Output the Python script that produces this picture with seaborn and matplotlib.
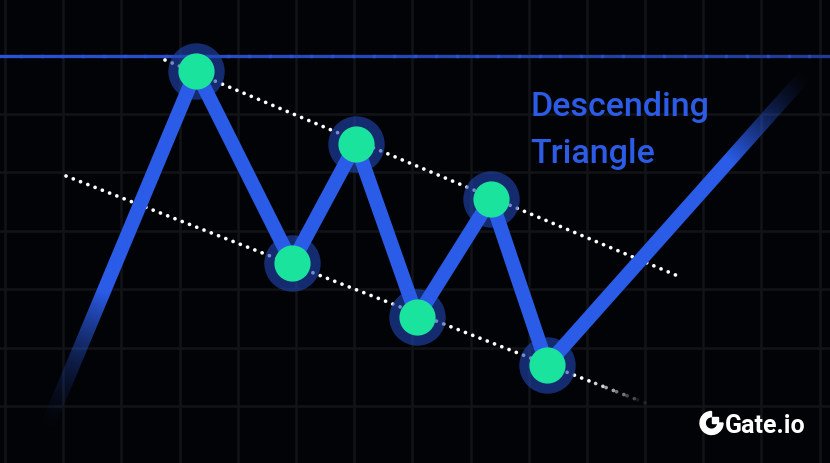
import numpy as np
import pandas as pd
import matplotlib
matplotlib.use("Agg")
import matplotlib.pyplot as plt
from matplotlib.collections import LineCollection
from matplotlib.patches import Wedge, Rectangle, Polygon
import seaborn as sns

# ---- data (pixel-space coordinates) ----
line_x = [42, 196, 292, 356, 417, 491, 547, 808]
line_y = [440, 72, 264, 145, 318, 200, 366, 73]
pivot_x = [196, 292, 356, 417, 491, 547]
pivot_y = [72, 264, 145, 318, 200, 366]
upper_trend_x = [165, 678]
upper_trend_y = [61, 277]
lower_trend_x = [66, 648]
lower_trend_y = [177, 405]
resistance_y = 57
grid_x = [5, 63, 121, 180, 238, 296, 354, 412, 471, 529, 587, 645, 703, 761, 820]
grid_y = [57, 115, 173, 232, 290, 349, 407]
title_lines = ["Descending", "Triangle"]
brand = "Gate.io"

W, H = 830, 464
BG = "#020306"
BLUE = "#2b5ce8"
GREEN = "#19e39c"
LW_PT = 10.3

sns.set_theme(style="dark")
plt.rcParams["font.family"] = ["Roboto", "DejaVu Sans"]

fig = plt.figure(figsize=(W / 100, H / 100), dpi=100, facecolor=BG)
ax = fig.add_axes([0, 0, 1, 1])
ax.set_facecolor(BG)
ax.set_xticks(grid_x)
ax.set_yticks(grid_y)
ax.tick_params(length=0, labelbottom=False, labelleft=False)
ax.grid(True, color="#111318", lw=1.8)
for s in ax.spines.values():
    s.set_visible(False)

# resistance line with slight fade to the right
n = 40
xs = np.linspace(0, W, n + 1)
segs = [[(xs[i], resistance_y), (xs[i + 1], resistance_y)] for i in range(n)]
cols = [matplotlib.colors.to_rgba("#2a52d4", 1 - 0.35 * i / n) for i in range(n)]
ax.add_collection(LineCollection(segs, colors=cols, linewidths=2.4,
                                 capstyle="projecting", zorder=2))

# dotted trendlines
dot_style = dict(color="white", lw=2.7, linestyle=(0, (0.01, 2.07)),
                 dash_capstyle="round", zorder=2)
ax.plot(upper_trend_x, upper_trend_y, **dot_style)
lx0, ly0 = lower_trend_x[0], lower_trend_y[0]
lx1, ly1 = lower_trend_x[1], lower_trend_y[1]
fade_start = 0.91
pieces = 5
ts = [0, fade_start] + list(np.linspace(fade_start, 1, pieces + 1)[1:])
for i in range(len(ts) - 1):
    a = 1.0 if i == 0 else 1 - i / (pieces + 0.5)
    ax.plot([lx0 + (lx1 - lx0) * ts[i], lx0 + (lx1 - lx0) * ts[i + 1]],
            [ly0 + (ly1 - ly0) * ts[i], ly0 + (ly1 - ly0) * ts[i + 1]],
            **{**dot_style, "alpha": a})

pivots = pd.DataFrame({"x": pivot_x, "y": pivot_y})
# halo
sns.scatterplot(data=pivots, x="x", y="y", s=1650, color="#2045b0", alpha=0.62,
                linewidth=0, ax=ax, zorder=3, legend=False)

# main zig-zag
sns.lineplot(data=pivots, x="x", y="y", sort=False, color=BLUE, lw=LW_PT,
             ax=ax, zorder=4, legend=False, solid_joinstyle="round",
             solid_capstyle="round")


def fade_leg(p_solid, p_end, fade_frac, power):
    p0 = np.array(p_solid, float)
    p1 = np.array(p_end, float)
    d = p1 - p0
    L = np.hypot(*d)
    u = d / L
    nrm = np.array([-u[1], u[0]])
    hw = LW_PT / 0.72 / 2
    corners = [p0 + nrm * hw, p1 + nrm * hw, p1 - nrm * hw, p0 - nrm * hw]
    poly = Polygon(corners, closed=True, facecolor="none", edgecolor="none",
                   transform=ax.transData)
    ax.add_patch(poly)
    xmin = min(c[0] for c in corners) - 2
    xmax = max(c[0] for c in corners) + 2
    ymin = min(c[1] for c in corners) - 2
    ymax = max(c[1] for c in corners) + 2
    gx = np.arange(xmin, xmax, 0.5)
    gy = np.arange(ymin, ymax, 0.5)
    X, Y = np.meshgrid(gx, gy)
    t = ((X - p0[0]) * u[0] + (Y - p0[1]) * u[1]) / L
    a = np.clip((1 - t) / fade_frac, 0, 1) ** power
    rgb = matplotlib.colors.to_rgb(BLUE)
    img = np.zeros(X.shape + (4,))
    img[..., 0], img[..., 1], img[..., 2] = rgb
    img[..., 3] = a
    im = ax.imshow(img, extent=[xmin, xmax, ymax, ymin], origin="upper",
                   interpolation="bilinear", aspect="auto", zorder=4)
    im.set_clip_path(poly)


fade_leg((line_x[1], line_y[1]), (line_x[0], line_y[0]), 0.4, 1.9)
fade_leg((line_x[6], line_y[6]), (line_x[7], line_y[7]), 0.3, 1.5)

# pivot dots
sns.scatterplot(data=pivots, x="x", y="y", s=680, color=GREEN, linewidth=0,
                ax=ax, zorder=5, legend=False)

# title
ax.text(530, 116, title_lines[0], color="#2c5ce6", fontsize=24.5,
        fontweight="medium", va="baseline", ha="left", zorder=6)
ax.text(530, 163, title_lines[1], color="#2c5ce6", fontsize=24.5,
        fontweight="medium", va="baseline", ha="left", zorder=6)

# brand logo
cx, cy, r = 711.5, 424, 11.5
ax.add_patch(Wedge((cx, cy), r, 0, 270, width=5.2, color="white", zorder=6))
ax.add_patch(Rectangle((cx, cy - r + 5.2), r - 5.2 + 0.5, r - 5.2 + 0.3,
                       color="white", zorder=6))
ax.text(725, 433, brand, color="white", fontsize=18, fontweight="bold",
        va="baseline", ha="left", zorder=6)

ax.set_xlim(0, W)
ax.set_ylim(H, 0)
ax.set_xlabel("")
ax.set_ylabel("")
fig.savefig("out.png", dpi=100, facecolor=BG)
